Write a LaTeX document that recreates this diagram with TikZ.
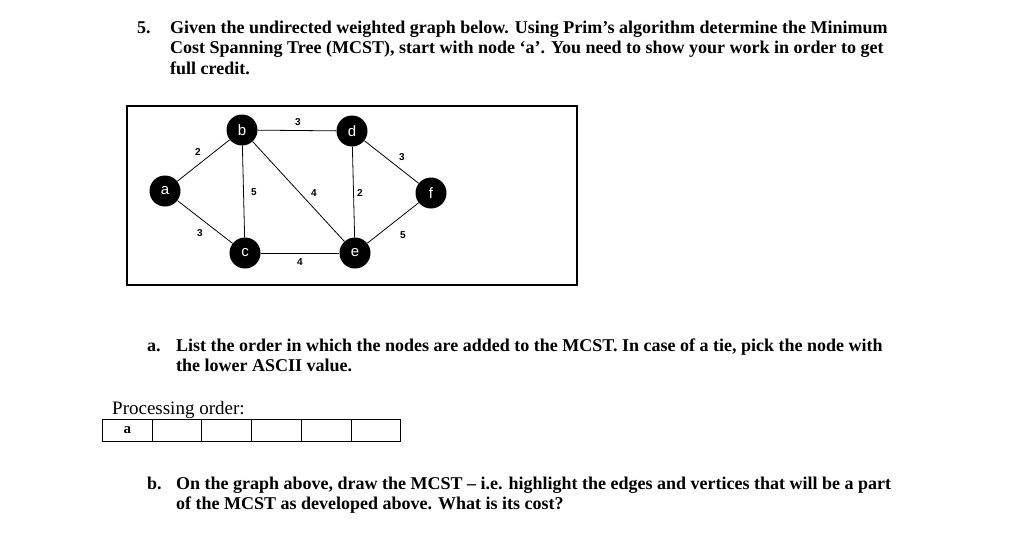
\documentclass[tikz,border=0pt]{standalone}
\usepackage{fontspec}
\setmainfont{Liberation Serif}
\newfontfamily\gsans{Liberation Sans}
\begin{document}
\begin{tikzpicture}[x=1pt,y=-1pt,
  txt/.style={anchor=base west,inner sep=0,font=\fontsize{18}{20}\selectfont\bfseries},
  vtx/.style={circle,fill=black,text=white,minimum size=31pt,inner sep=0,font=\gsans\fontsize{15}{15}\selectfont},
  wt/.style={font=\gsans\bfseries\fontsize{10}{10}\selectfont,inner sep=1pt},
  edge/.style={line width=0.8pt},
  cell/.style={draw,line width=1pt,minimum width=49.7pt,minimum height=22pt,inner sep=0,anchor=north west,font=\fontsize{15}{15}\selectfont\bfseries}]
\useasboundingbox (0,0) rectangle (1024,546);
\node[txt] (n5) at (137,33) {5.};
\node[txt] (l1) at (170,33) {Given the undirected weighted graph below. Using Prim's algorithm determine the Minimum};
\node[txt] (l2) at (170,53) {Cost Spanning Tree (MCST), start with node `a'. You need to show your work in order to get};
\node[txt] (l3) at (170,74) {full credit.};
\draw[line width=1.2pt] (127,106) rectangle (577,285);
\node[vtx] (a) at (165,191) {a};
\node[vtx] (b) at (242,130) {b};
\node[vtx] (d) at (352,131) {d};
\node[vtx] (f) at (431,193) {f};
\node[vtx] (c) at (245,253) {c};
\node[vtx] (e) at (355,253) {e};
\draw[edge] (a) -- (b); \draw[edge] (a) -- (c); \draw[edge] (b) -- (d);
\draw[edge] (b) -- (c); \draw[edge] (b) -- (e); \draw[edge] (d) -- (e);
\draw[edge] (d) -- (f); \draw[edge] (c) -- (e); \draw[edge] (e) -- (f);
\node[wt] (w1) at (198,152) {2};
\node[wt] (w2) at (200,233) {3};
\node[wt] (w3) at (298,122) {3};
\node[wt] (w4) at (254,192) {5};
\node[wt] (w5) at (314,193) {4};
\node[wt] (w6) at (360,193) {2};
\node[wt] (w7) at (402,157) {3};
\node[wt] (w8) at (300,262) {4};
\node[wt] (w9) at (403,235) {5};
\node[txt] (qa) at (147,351) {a.};
\node[txt] (qa1) at (176,351) {List the order in which the nodes are added to the MCST. In case of a tie, pick the node with};
\node[txt] (qa2) at (176,371) {the lower ASCII value.};
\node[txt,font=\fontsize{19}{20}\selectfont] (po) at (112,414) {\underline{Processing order:}};
\node[cell] (c1) at (102,419) {a};
\node[cell] (c2) at (151.7,419) {};
\node[cell] (c3) at (201.4,419) {};
\node[cell] (c4) at (251.1,419) {};
\node[cell] (c5) at (300.8,419) {};
\node[cell] (c6) at (350.5,419) {};
\node[txt] (qb) at (147,489) {b.};
\node[txt] (qb1) at (176,489) {On the graph above, draw the MCST -- i.e. highlight the edges and vertices that will be a part};
\node[txt] (qb2) at (176,509) {of the MCST as developed above. What is its cost?};
\end{tikzpicture}
\end{document}
